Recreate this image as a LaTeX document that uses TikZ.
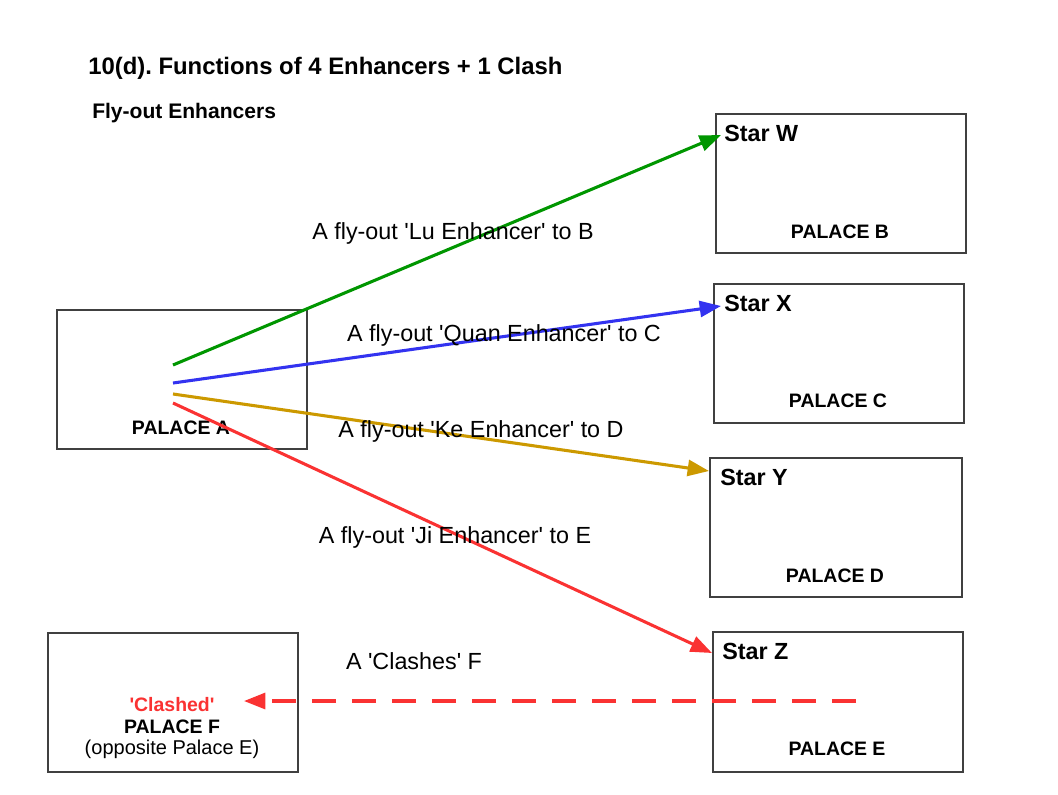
\documentclass[tikz,border=0pt]{standalone}
\usepackage{fontspec}
\setmainfont{Liberation Sans}
\usetikzlibrary{arrows.meta}
\definecolor{cgreen}{RGB}{0,150,0}
\definecolor{cblue}{RGB}{51,51,240}
\definecolor{cgold}{RGB}{204,153,0}
\definecolor{cred}{RGB}{250,50,50}
\newcommand{\q}{\textquotesingle}
\frenchspacing
\begin{document}
\begin{tikzpicture}[x=0.75pt,y=-0.75pt,
  box/.style={draw=black!75,line width=0.8pt},
  arr/.style={line width=2.3pt,-{Triangle[length=16pt,width=12pt]}},
  lbl/.style={font=\fontsize{17.5pt}{20pt}\selectfont},
  bl/.style={font=\fontsize{14.6pt}{17pt}\selectfont\bfseries},
  star/.style={font=\fontsize{17.5pt}{20pt}\selectfont\bfseries,anchor=west}]
\useasboundingbox (0,0) rectangle (1058,794);
% boxes
\draw[box] (57,310) rectangle (307,449);
\draw[box] (716,114) rectangle (966,253);
\draw[box] (714,284) rectangle (964,423);
\draw[box] (710,458) rectangle (962,597);
\draw[box] (713,632) rectangle (963,772);
\draw[box] (48,633) rectangle (298,772);
% texts
\node[font=\fontsize{17.9pt}{20pt}\selectfont\bfseries,anchor=west,inner sep=0pt] (title) at (88,68) {10(d). Functions of 4 Enhancers + 1 Clash};
\node[font=\fontsize{15.8pt}{18pt}\selectfont\bfseries,anchor=west,inner sep=0pt] (sub) at (92,113) {Fly-out Enhancers};
\node[bl] (pa) at (181,428) {PALACE A};
\node[star,inner sep=0pt] (w) at (724,133) {Star W};
\node[bl] (pb) at (840,232) {PALACE B};
\node[star,inner sep=0pt] (x) at (724,303) {Star X};
\node[bl] (pc) at (838,401) {PALACE C};
\node[star,inner sep=0pt] (y) at (720,477) {Star Y};
\node[bl] (pd) at (835,576) {PALACE D};
\node[star,inner sep=0pt] (z) at (722,651) {Star Z};
\node[bl] (pe) at (837,749) {PALACE E};
\node[bl,text=cred] (cl) at (172,705) {\q Clashed\q};
\node[bl] (pf) at (172,727) {PALACE F};
\node[font=\fontsize{15pt}{17pt}\selectfont] (op) at (172,749) {(opposite Palace E)};
% arrows
\coordinate (s1) at (173,365);
\coordinate (s2) at (173,383);
\coordinate (s3) at (173,394);
\coordinate (s4) at (173,403);
\coordinate (s5) at (856,701);
\coordinate (e1) at (721,135);
\coordinate (e2) at (721,306);
\coordinate (e3) at (709,471);
\coordinate (e4) at (712,653);
\coordinate (e5) at (244,701);
\draw[arr,cgreen] (s1) -- (e1);
\draw[arr,cblue] (s2) -- (e2);
\draw[arr,cgold] (s3) -- (e3);
\draw[arr,cred] (s4) -- (e4);
\draw[arr,cred,dash pattern=on 18pt off 12pt] (s5) -- (e5);
\node[lbl] (l1) at (453,233) {A fly-out \q Lu Enhancer\q{} to B};
\node[lbl] (l2) at (504,335) {A fly-out \q Quan Enhancer\q{} to C};
\node[lbl] (l3) at (481,431) {A fly-out \q Ke Enhancer\q{} to D};
\node[lbl] (l4) at (455,537) {A fly-out \q Ji Enhancer\q{} to E};
\node[lbl] (l5) at (414,661) {A \q Clashes\q{} F};
\end{tikzpicture}
\end{document}
